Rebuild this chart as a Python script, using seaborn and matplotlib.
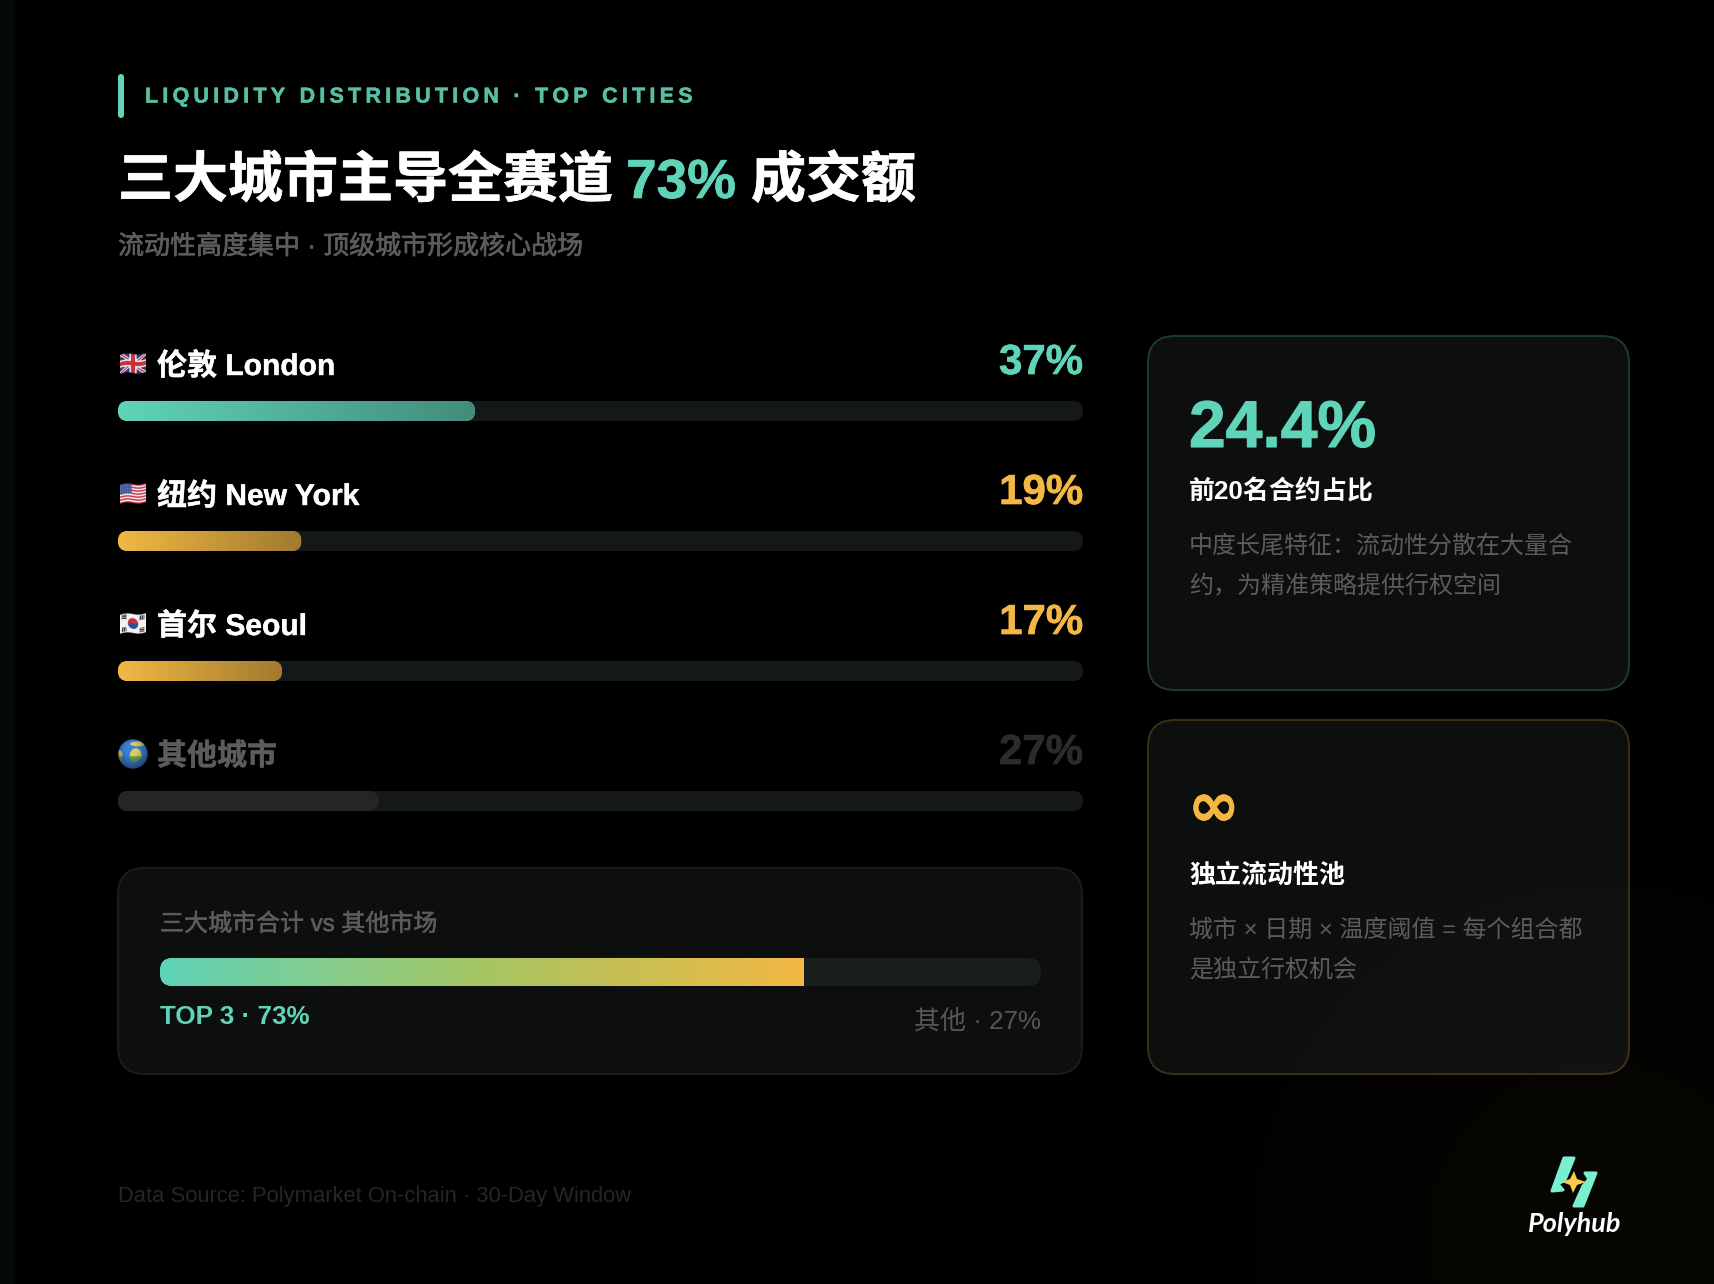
"""
plot.py

Liquidity share of the top cities, drawn as rounded progress bars on a dark card layout.
"""

import numpy as np
import pandas as pd
import matplotlib
matplotlib.use("Agg")
import matplotlib.pyplot as plt
import matplotlib.patheffects as pe
from matplotlib.colors import to_rgb
from matplotlib.patches import FancyBboxPatch, Polygon, Rectangle
import seaborn as sns

W, H = 1714, 1284

cities = ["伦敦 London", "纽约 New York", "首尔 Seoul", "其他城市"]
city_flags = ["uk", "us", "kr", "globe"]
city_share = [37, 19, 17, 27]
city_start = ["#5fd4b8", "#f2b843", "#f2b843", "#252525"]
city_end = ["#438c7c", "#a07a30", "#a07a30", "#252525"]
label_colors = ["#ffffff", "#ffffff", "#ffffff", "#5c5c5c"]
share_colors = ["#5fd4b8", "#f2b843", "#f2b843", "#2b2b2b"]
track_full = [100, 100, 100, 100]

summary_label = ["三大城市合计 vs 其他市场"]
summary_top3 = [73]
summary_rest = 27

TEAL = "#5fd4b8"
GOLD = "#f2b843"
GREY = "#5c5c5c"
LATIN = ["Liberation Sans", "Noto Sans CJK SC", "DejaVu Sans"]


def put(ax, x, y, s, size, color, weight="normal", ha="left", family=LATIN, style="normal", stroke=0):
    t = ax.text(x, y, s, fontsize=size * 0.72, color=color, fontweight=weight, ha=ha,
                va="baseline", family=family, style=style, zorder=5)
    if stroke:
        # no medium face installed, a thin outline gets close to it
        t.set_path_effects([pe.withStroke(linewidth=stroke, foreground=color)])
    return t


def add_card(ax, x0, y0, x1, y1, edge):
    ax.add_patch(FancyBboxPatch((x0, y0), x1 - x0, y1 - y0,
                                boxstyle="round,pad=0,rounding_size=27",
                                fc="#0d0f0f", ec=edge, lw=1.4, zorder=1))


def rounded_clip(ax, bar, radius_px, px_x, px_y):
    x, y, w, h = bar.get_x(), bar.get_y(), bar.get_width(), bar.get_height()
    clip = FancyBboxPatch((x, y), w, h,
                          boxstyle=f"round,pad=0,rounding_size={radius_px / px_x}",
                          mutation_aspect=px_x / px_y, transform=ax.transData)
    return clip


def paint_gradient(ax, bar, clip, stops):
    # imshow can't follow the bar on its own, so lay it exactly over the seaborn bar
    x, y, w, h = bar.get_x(), bar.get_y(), bar.get_width(), bar.get_height()
    t = np.linspace(0, 1, 256)
    where = np.linspace(0, 1, len(stops))
    rgb = np.stack([np.interp(t, where, [to_rgb(c)[k] for c in stops]) for k in range(3)], axis=-1)[None, :, :]
    im = ax.imshow(rgb, extent=(x, x + w, y + h, y), aspect="auto", zorder=4)
    im.set_clip_path(clip)


def flag_image(kind):
    v, u = np.mgrid[0:1:120j, 0:1:160j]
    rgba = np.ones((120, 160, 4))

    if kind == "globe":
        x, y = (u - 0.5) * 2, (v - 0.5) * 2
        r = np.hypot(x, y)
        rgba[..., :3] = np.array(to_rgb("#3a7fd6"))
        africa = (((x - 0.18) / 0.4) ** 2 + ((y - 0.12) / 0.5) ** 2 < 1) & (y < 0.62 - 0.6 * x)
        europe = ((x - 0.3) / 0.5) ** 2 + ((y + 0.68) / 0.16) ** 2 < 1
        west = ((x + 0.9) / 0.2) ** 2 + ((y - 0.1) / 0.35) ** 2 < 1
        land = africa | europe | west
        rgba[land, :3] = np.array(to_rgb("#d9cf68"))
        rgba[land & (y > 0.15), :3] = np.array(to_rgb("#6aa84f"))
        shade = np.clip(1.2 - 0.5 * np.hypot(x + 0.1, y + 0.3), 0.4, 1)[..., None]
        rgba[..., :3] *= shade
        rgba[..., 3] = np.clip((1 - r) * 40, 0, 1)
        return rgba

    # small wave and upward tilt to the right
    v2 = (v - 0.5) / 0.86 + 0.5 + 0.05 * np.sin(u * 6.28) + 0.08 * (u - 0.5)
    x, y = (u - 0.5) * 26, (v2 - 0.5) * 19
    rgba[..., 3] = np.clip(np.minimum(v2, 1 - v2) * 30, 0, 1)

    if kind == "uk":
        rgba[..., :3] = np.array(to_rgb("#2a3b80"))
        diag = np.abs(np.abs(x) / 13 - np.abs(y) / 9.5)
        rgba[diag < 0.2, :3] = 0.95
        rgba[diag < 0.08, :3] = np.array(to_rgb("#c8313e"))
        rgba[(np.abs(x) < 3.6) | (np.abs(y) < 3.4), :3] = 0.95
        rgba[(np.abs(x) < 2.1) | (np.abs(y) < 2), :3] = np.array(to_rgb("#c8313e"))
    elif kind == "us":
        stripes = (np.clip(v2, 0, 0.999) * 13).astype(int) % 2 == 0
        rgba[..., :3] = 0.95
        rgba[stripes, :3] = np.array(to_rgb("#c8354a"))
        canton = (u < 0.45) & (v2 < 7 / 13)
        rgba[canton, :3] = np.array(to_rgb("#3d4f96"))
        stars = canton & (np.sin(u * 95) > 0.5) & (np.sin(v2 * 75) > 0.5)
        rgba[stars, :3] = 0.9
    else:
        rgba[..., :3] = 0.95
        r = np.hypot(x, y)
        rgba[(r < 5.2) & (y + 0.35 * x < 1.2 * np.sin(x * 0.6)), :3] = np.array(to_rgb("#cd3042"))
        rgba[(r < 5.2) & (y + 0.35 * x >= 1.2 * np.sin(x * 0.6)), :3] = np.array(to_rgb("#2b4f9e"))
        xr, yr = (x + y * 1.2 * np.sign(x * y) * -1) * 0.7, (y - x * 0.7 * np.sign(x * y) * -1) * 0.7
        bars = (np.abs(np.abs(x) - 9) < 2.4) & (np.abs(np.abs(y) - 6) < 2.2) & (np.sin((xr - yr) * 2.6) > -0.4)
        rgba[bars, :3] = 0.12
    return rgba


def draw_logo(ax):
    mint = "#78f0cf"
    left = [(1564, 1158), (1574, 1158), (1565, 1180), (1558, 1184), (1563, 1190), (1552, 1191)]
    right = [(1585, 1173), (1596, 1173), (1583, 1206), (1574, 1206), (1583, 1186), (1589, 1179)]
    for shape in [left, right]:
        ax.add_patch(Polygon(shape, closed=True, fc=mint, ec=mint, lw=2.2, joinstyle="round", zorder=5))
    cx, cy = 1574, 1182
    star = [(cx, cy - 11), (cx + 3, cy - 3), (cx + 12, cy), (cx + 3, cy + 3),
            (cx - 1, cy + 11), (cx - 4, cy + 3), (cx - 12, cy), (cx - 4, cy - 3)]
    ax.add_patch(Polygon(star, closed=True, fc="#f7cb4d", ec="none", zorder=6))
    put(ax, 1528, 1232, "Polyhub", 27, "#ffffff", weight="bold", family=["Lato"], style="italic")


def main():
    sns.set_theme(style="white")
    plt.rcParams["font.family"] = LATIN

    fig = plt.figure(figsize=(W / 100, H / 100), dpi=100, facecolor="#000000")

    page = fig.add_axes([0, 0, 1, 1], facecolor="#000000", zorder=0)
    page.set_xlim(0, W)
    page.set_ylim(H, 0)
    page.set_autoscale_on(False)
    page.axis("off")

    page.add_patch(Rectangle((0, 0), 15, H, fc="#040807", ec="none", zorder=0))

    add_card(page, 118, 868, 1082, 1074, "#1b1d1d")
    add_card(page, 1148, 336, 1629, 690, "#1d3a33")
    add_card(page, 1148, 720, 1629, 1074, "#3a2f18")

    # faint warm glow in the bottom right corner, over the cards
    yy, xx = np.mgrid[0:H:4, 0:W:4]
    dist = np.hypot(xx - 1600, yy - 1230) / 520
    glow = np.zeros(xx.shape + (4,))
    glow[..., :3] = to_rgb(GOLD)
    glow[..., 3] = 0.035 * np.clip(1 - dist, 0, 1)
    page.imshow(glow, extent=(0, W, H, 0), aspect="auto", zorder=2)

    page.add_patch(FancyBboxPatch((118, 74), 6, 44, boxstyle="round,pad=0,rounding_size=3",
                                  fc=TEAL, ec="none", zorder=5))
    put(page, 145, 102.5, "\u2009".join("LIQUIDITY DISTRIBUTION · TOP CITIES"), 21.4, "#58bfa6",
        weight="bold", stroke=0.4)
    put(page, 118, 197, "三大城市主导全赛道", 55, "#ffffff", weight="bold", stroke=0.5)
    put(page, 626, 198, "73%", 55, TEAL, weight="bold", stroke=0.5)
    put(page, 751, 197, "成交额", 55, "#ffffff", weight="bold", stroke=0.5)
    put(page, 118, 254, "流动性高度集中 · 顶级城市形成核心战场", 26, GREY, stroke=0.5)

    # city bars, 965 px for 0-100 and 130 px per row
    df = pd.DataFrame({"city": cities, "share": city_share, "track": track_full})
    px_x, px_y = 965 / 100, 130
    ax = fig.add_axes([118 / W, 1 - 866 / H, 965 / W, 520 / H], zorder=1)
    sns.barplot(data=df, x="track", y="city", color="#141819", width=20 / 130, saturation=1,
                linewidth=0, edgecolor="none", ax=ax)
    sns.barplot(data=df, x="share", y="city", color=city_start[0], width=20 / 130, saturation=1,
                linewidth=0, edgecolor="none", ax=ax)
    ax.set_xlim(0, 100)
    ax.set_ylim(3.5, -0.5)
    ax.axis("off")
    ax.patch.set_alpha(0)

    n = len(cities)
    track_bars, fill_bars = ax.patches[:n], ax.patches[n:]
    for bar in list(track_bars):
        bar.set_clip_path(rounded_clip(ax, bar, 10, px_x, px_y))
    for i, bar in enumerate(list(fill_bars)):
        clip = rounded_clip(ax, bar, 10, px_x, px_y)
        bar.set_facecolor(city_start[i])
        bar.set_clip_path(clip)
        paint_gradient(ax, bar, clip, [city_start[i], city_end[i]])
    ax.set_xlim(0, 100)
    ax.set_ylim(3.5, -0.5)

    to_page = ax.transData + page.transData.inverted()
    for i, bar in enumerate(track_bars):
        _, top = to_page.transform((0, bar.get_y()))
        x_right, _ = to_page.transform((track_full[i], 0))
        base = top - 27
        put(page, 157, base + 1, cities[i], 30, label_colors[i], weight="bold", stroke=0.3)
        put(page, x_right, base, f"{city_share[i]}%", 42, share_colors[i], weight="bold", ha="right", stroke=0.5)
        if city_flags[i] == "globe":
            page.imshow(flag_image("globe"), extent=(118, 148, base + 5, base - 25), aspect="auto", zorder=5)
        else:
            page.imshow(flag_image(city_flags[i]), extent=(120, 146, base + 1, base - 22), aspect="auto", zorder=5)

    # combined bar inside the lower card
    sx = fig.add_axes([160 / W, 1 - 986 / H, 881 / W, 28 / H], zorder=1)
    sns.barplot(x=[summary_top3[0] + summary_rest], y=summary_label, color="#1a1d1e",
                width=1, saturation=1, linewidth=0, edgecolor="none", ax=sx)
    sns.barplot(x=summary_top3, y=summary_label, color=TEAL, width=1, saturation=1,
                linewidth=0, edgecolor="none", ax=sx)
    sx.set_xlim(0, 100)
    sx.set_ylim(0.5, -0.5)
    sx.axis("off")
    sx.patch.set_alpha(0)
    track, fill = sx.patches[0], sx.patches[1]
    clip = rounded_clip(sx, track, 13, 8.81, 28)
    track.set_clip_path(clip)
    fill.set_clip_path(clip)
    paint_gradient(sx, fill, clip, [TEAL, "#a6c562", GOLD])
    sx.set_xlim(0, 100)
    sx.set_ylim(0.5, -0.5)

    put(page, 160, 931, summary_label[0], 24, GREY, stroke=0.4)
    put(page, 160, 1024, f"TOP 3 · {summary_top3[0]}%", 26, TEAL, weight="bold")
    put(page, 1041, 1029, f"其他 · {summary_rest}%", 26, "#565656", ha="right")

    put(page, 1189, 447, "24.4%", 66, TEAL, weight="bold", stroke=0.8)
    put(page, 1189, 499, "前20名合约占比", 26, "#ffffff", weight="bold")
    put(page, 1189, 553, "中度长尾特征：流动性分散在大量合", 24, GREY)
    put(page, 1189, 593, "约，为精准策略提供行权空间", 24, GREY)

    put(page, 1188, 826, "∞", 62, GOLD, weight="bold", family=["DejaVu Sans"], stroke=0.6)
    put(page, 1189, 883, "独立流动性池", 26, "#ffffff", weight="bold")
    put(page, 1189, 937, "城市 × 日期 × 温度阈值 = 每个组合都", 24, GREY)
    put(page, 1189, 977, "是独立行权机会", 24, GREY)

    put(page, 118, 1202, "Data Source: Polymarket On-chain · 30-Day Window", 22, "#262626")
    draw_logo(page)

    fig.savefig("out.png", dpi=100, facecolor=fig.get_facecolor())
    plt.close(fig)


if __name__ == "__main__":
    main()
